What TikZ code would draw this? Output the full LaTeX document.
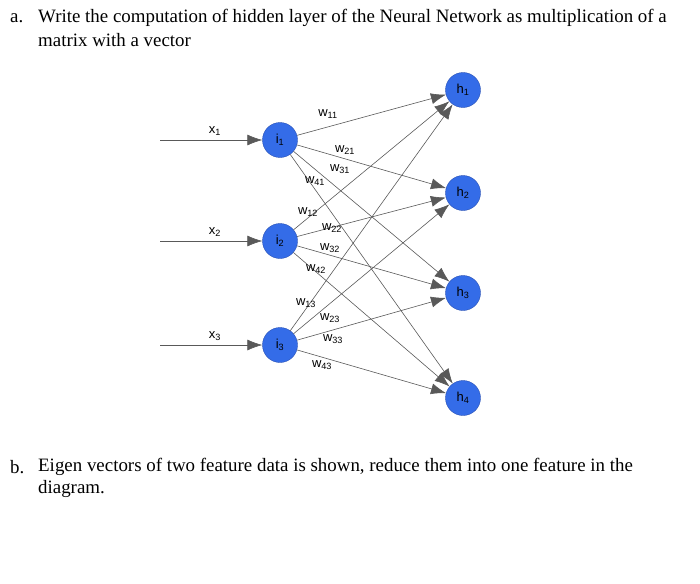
\documentclass[tikz,border=0pt]{standalone}
\usepackage{fontspec}
\setmainfont{Liberation Serif}
\newfontfamily\lab{Liberation Sans}
\usetikzlibrary{arrows.meta}
\begin{document}
\begin{tikzpicture}[x=1pt,y=-1pt,
  neuron/.style={circle,minimum size=35pt,inner sep=0pt,fill={rgb,255:red,52;green,108;blue,232},draw={rgb,255:red,40;green,80;blue,180},font=\lab\fontsize{13}{14}\selectfont},
  conn/.style={draw=gray!70!black,line width=0.6pt,-{Latex[length=15pt,width=11pt]}},
  wl/.style={font=\lab\fontsize{13}{14}\selectfont,inner sep=0pt},
  txt/.style={anchor=west,font=\fontsize{18.9}{22}\selectfont,inner sep=0pt}]
\useasboundingbox (0,0) rectangle (700,583);
\node[txt] at (10,18) {a.};
\node[txt] at (38,18) {Write the computation of hidden layer of the Neural Network as multiplication of a};
\node[txt] at (38,40) {matrix with a vector};
\node[txt] at (10,467) {b.};
\node[txt] at (38,467) {Eigen vectors of two feature data is shown, reduce them into one feature in the};
\node[txt] at (38,489) {diagram.};
\foreach \n/\y in {1/140,2/241,3/345}{
  \node[neuron] (i\n) at (280,\y) {i\textsubscript{\n}};
  \coordinate (s\n) at (160,\y);
  \draw[conn] (s\n) -- (i\n);
  \node[wl] at (215,\y-9) {x\textsubscript{\n}};
}
\foreach \n/\y in {1/90,2/193,3/293,4/398}{
  \node[neuron] (h\n) at (463,\y) {h\textsubscript{\n}};
}
\foreach \a in {1,2,3}{\foreach \b in {1,2,3,4}{\draw[conn] (i\a) -- (h\b);}}
\node[wl] at (328,114) {w\textsubscript{11}};
\node[wl] at (345,150) {w\textsubscript{21}};
\node[wl] at (340,169) {w\textsubscript{31}};
\node[wl] at (315,181) {w\textsubscript{41}};
\node[wl] at (308,212) {w\textsubscript{12}};
\node[wl] at (332,228) {w\textsubscript{22}};
\node[wl] at (330,248) {w\textsubscript{32}};
\node[wl] at (316,269) {w\textsubscript{42}};
\node[wl] at (306,303) {w\textsubscript{13}};
\node[wl] at (330,318) {w\textsubscript{23}};
\node[wl] at (333,339) {w\textsubscript{33}};
\node[wl] at (322,365) {w\textsubscript{43}};
\end{tikzpicture}
\end{document}
